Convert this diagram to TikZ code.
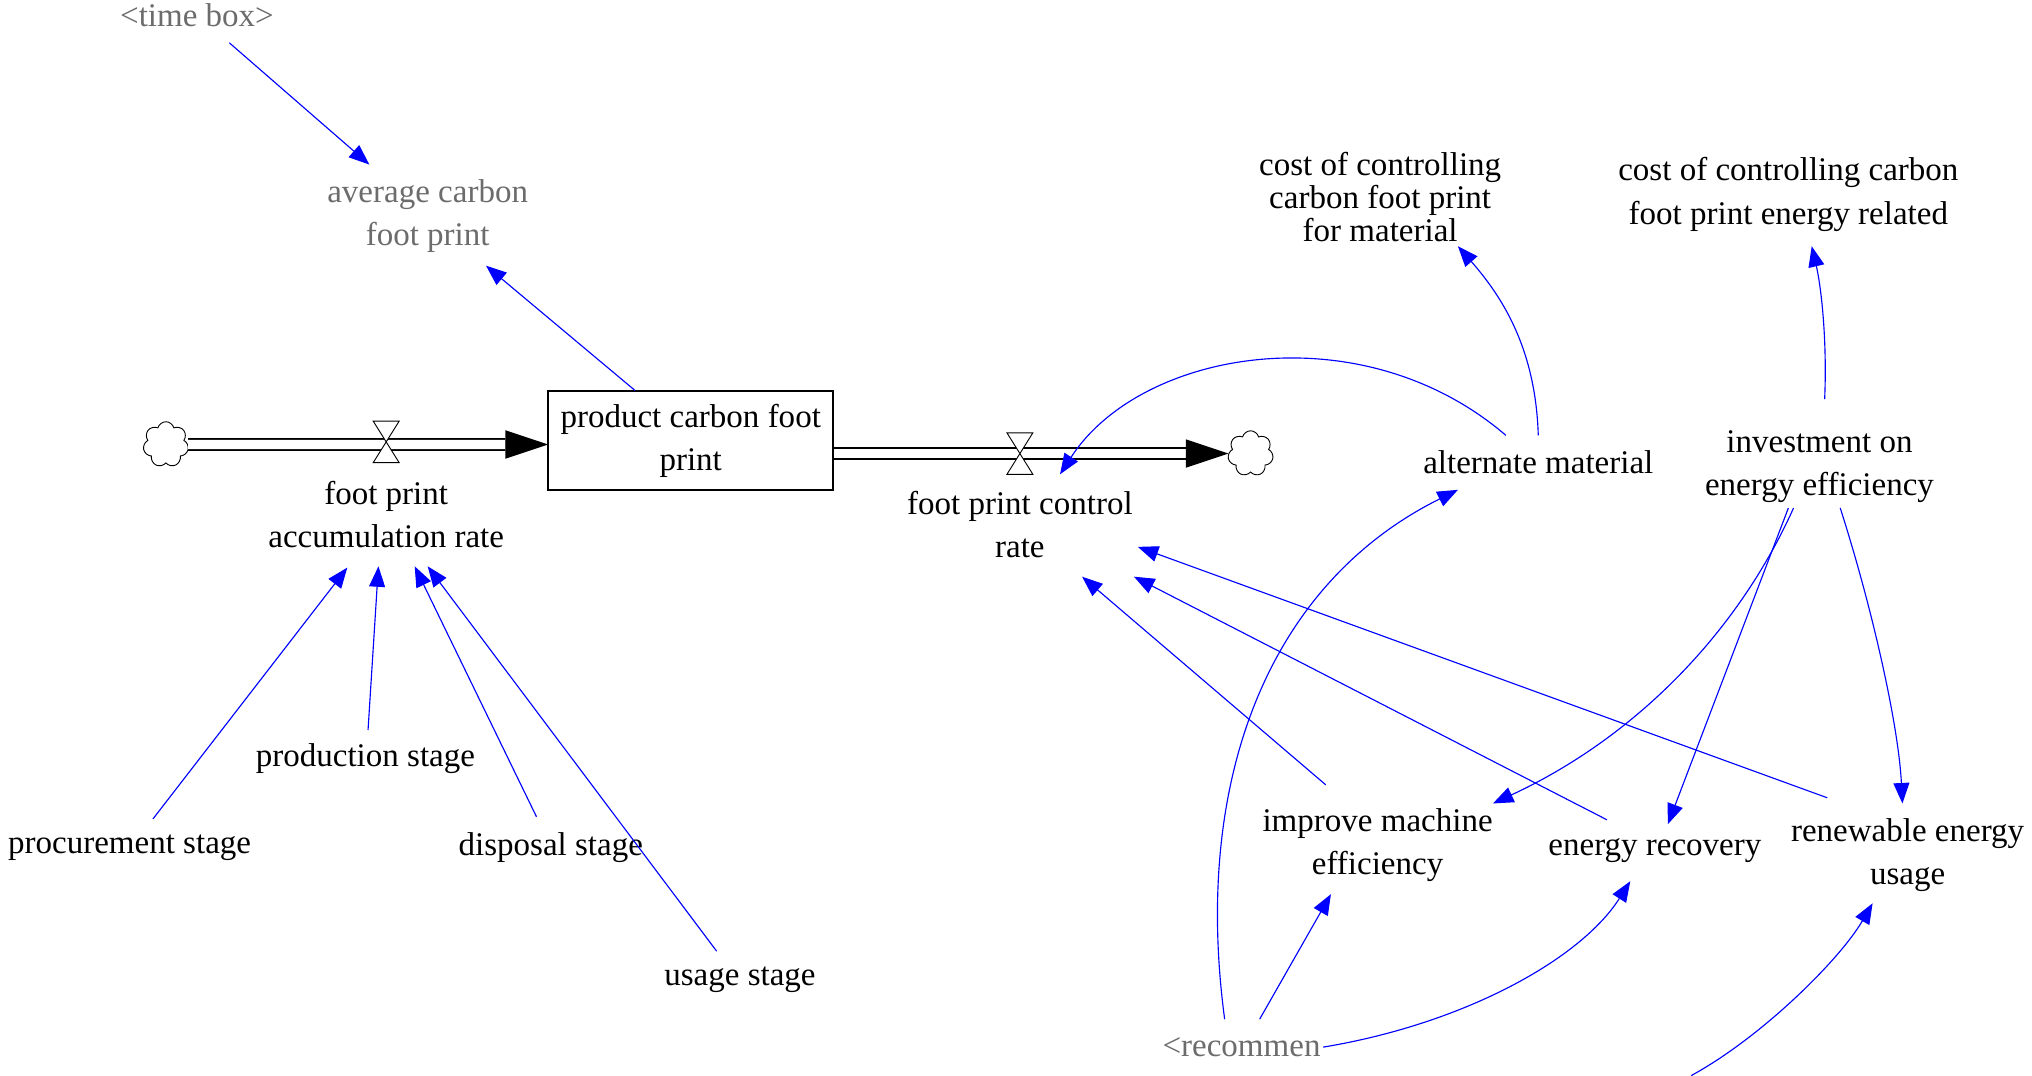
\documentclass[tikz,border=0pt]{standalone}
\usepackage{fontspec}
\setmainfont{Liberation Serif}
\usetikzlibrary{arrows.meta,shapes.symbols}
\begin{document}
\begin{tikzpicture}[x=0.02cm,y=-0.02cm,
  every node/.style={font=\fontsize{14.5}{19}\selectfont,align=center,inner sep=1pt},
  gr/.style={text=gray!85!black},
  ar/.style={draw=blue,-{Triangle[length=9pt,width=7pt]},line width=0.5pt},
  pipe/.style={double=white,double distance=4pt,line width=0.8pt},
  cl/.style={cloud,cloud puffs=7,draw,minimum width=20pt,minimum height=20pt,inner sep=0pt}]
\useasboundingbox (0,0) rectangle (1568,830);
% texts
\node[gr] (tb) at (152,12) {<time box>};
\node[gr] (avg) at (330,167) {average carbon\\foot print};
\node[draw,line width=0.8pt,minimum width=4.4cm,minimum height=1.52cm] (stock) at (533,340) {product carbon foot\\print};
\node[cl] (c1) at (128,343) {};
\node[cl] (c2) at (965,350) {};
\node (far) at (298,397) {foot print\\accumulation rate};
\node (fcr) at (787,405) {foot print control\\rate};
\node (alt) at (1187,357) {alternate material};
\node[font=\fontsize{14.5}{10.5}\selectfont] (ccm) at (1065,152) {cost of controlling\\carbon foot print\\for material};
\node (cce) at (1380,150) {cost of controlling carbon\\foot print energy related};
\node (inv) at (1404,360) {investment on\\energy efficiency};
\node (ime) at (1063,652) {improve machine\\efficiency};
\node (er) at (1277,656) {energy recovery};
\node (ren) at (1472,660) {renewable energy\\usage};
\node[gr] (rec) at (958,808) {<recommen};
\node (prod) at (282,585) {production stage};
\node (proc) at (100,654) {procurement stage};
\node (disp) at (425,654) {disposal stage};
\node (use) at (571,756) {usage stage};
\coordinate (free) at (1305,830);
% pipes
\draw[pipe] (c1.east) -- (390,343);
\fill (390,332) -- (423,343) -- (390,354) -- cycle;
\draw[pipe] (stock.east |- 0,350) -- (915,350);
\fill (915,339) -- (948,350) -- (915,361) -- cycle;
\foreach \x/\y in {298/341,787/350}{
  \draw[fill=white] (\x-10,\y-16) -- (\x+10,\y-16) -- (\x-10,\y+16) -- (\x+10,\y+16) -- cycle;}
% arrows
\draw[ar] (tb.south) ++(25,10) coordinate(t0) (t0) -- (285,127);
\draw[ar] (stock.north -| 490,0) -- (375,205);
\draw[ar] (proc.north) ++(18,-10) -- (268,438);
\draw[ar] (prod.north) ++(2,-8) -- (292,437);
\draw[ar] (disp.north) ++(-11,-10) -- (320,437);
\draw[ar] (use.north) ++(-18,-10) -- (330,437);
\draw[ar] (alt.north) ++(-25,-10) .. controls (1050,240) and (880,270) .. (818,366);
\draw[ar] (alt.north) ++(0,-10) .. controls (1185,270) and (1160,230) .. (1125,190);
\draw[ar] (inv.north) ++(4,-22) .. controls (1410,260) and (1405,220) .. (1398,190);
\draw[ar] (inv.south) ++(-20,2) .. controls (1340,490) and (1260,570) .. (1152,620);
\draw[ar] (inv.south) ++(-24,2) -- (1287,636);
\draw[ar] (inv.south) ++(16,2) .. controls (1445,470) and (1465,560) .. (1468,620);
\draw[ar] (ime.north) ++(-40,-16) -- (835,445);
\draw[ar] (er.north) ++(-37,-12) -- (875,445);
\draw[ar] (ren.north) ++(-62,-14) -- (878,422);
\draw[ar] (rec.north) ++(-13,-12) .. controls (920,600) and (980,450) .. (1125,378);
\draw[ar] (rec.north) ++(14,-12) -- (1027,690);
\draw[ar] (rec.east) .. controls (1130,790) and (1220,740) .. (1258,680);
\draw[ar] (free) .. controls (1360,800) and (1420,740) .. (1445,697);
\end{tikzpicture}
\end{document}
